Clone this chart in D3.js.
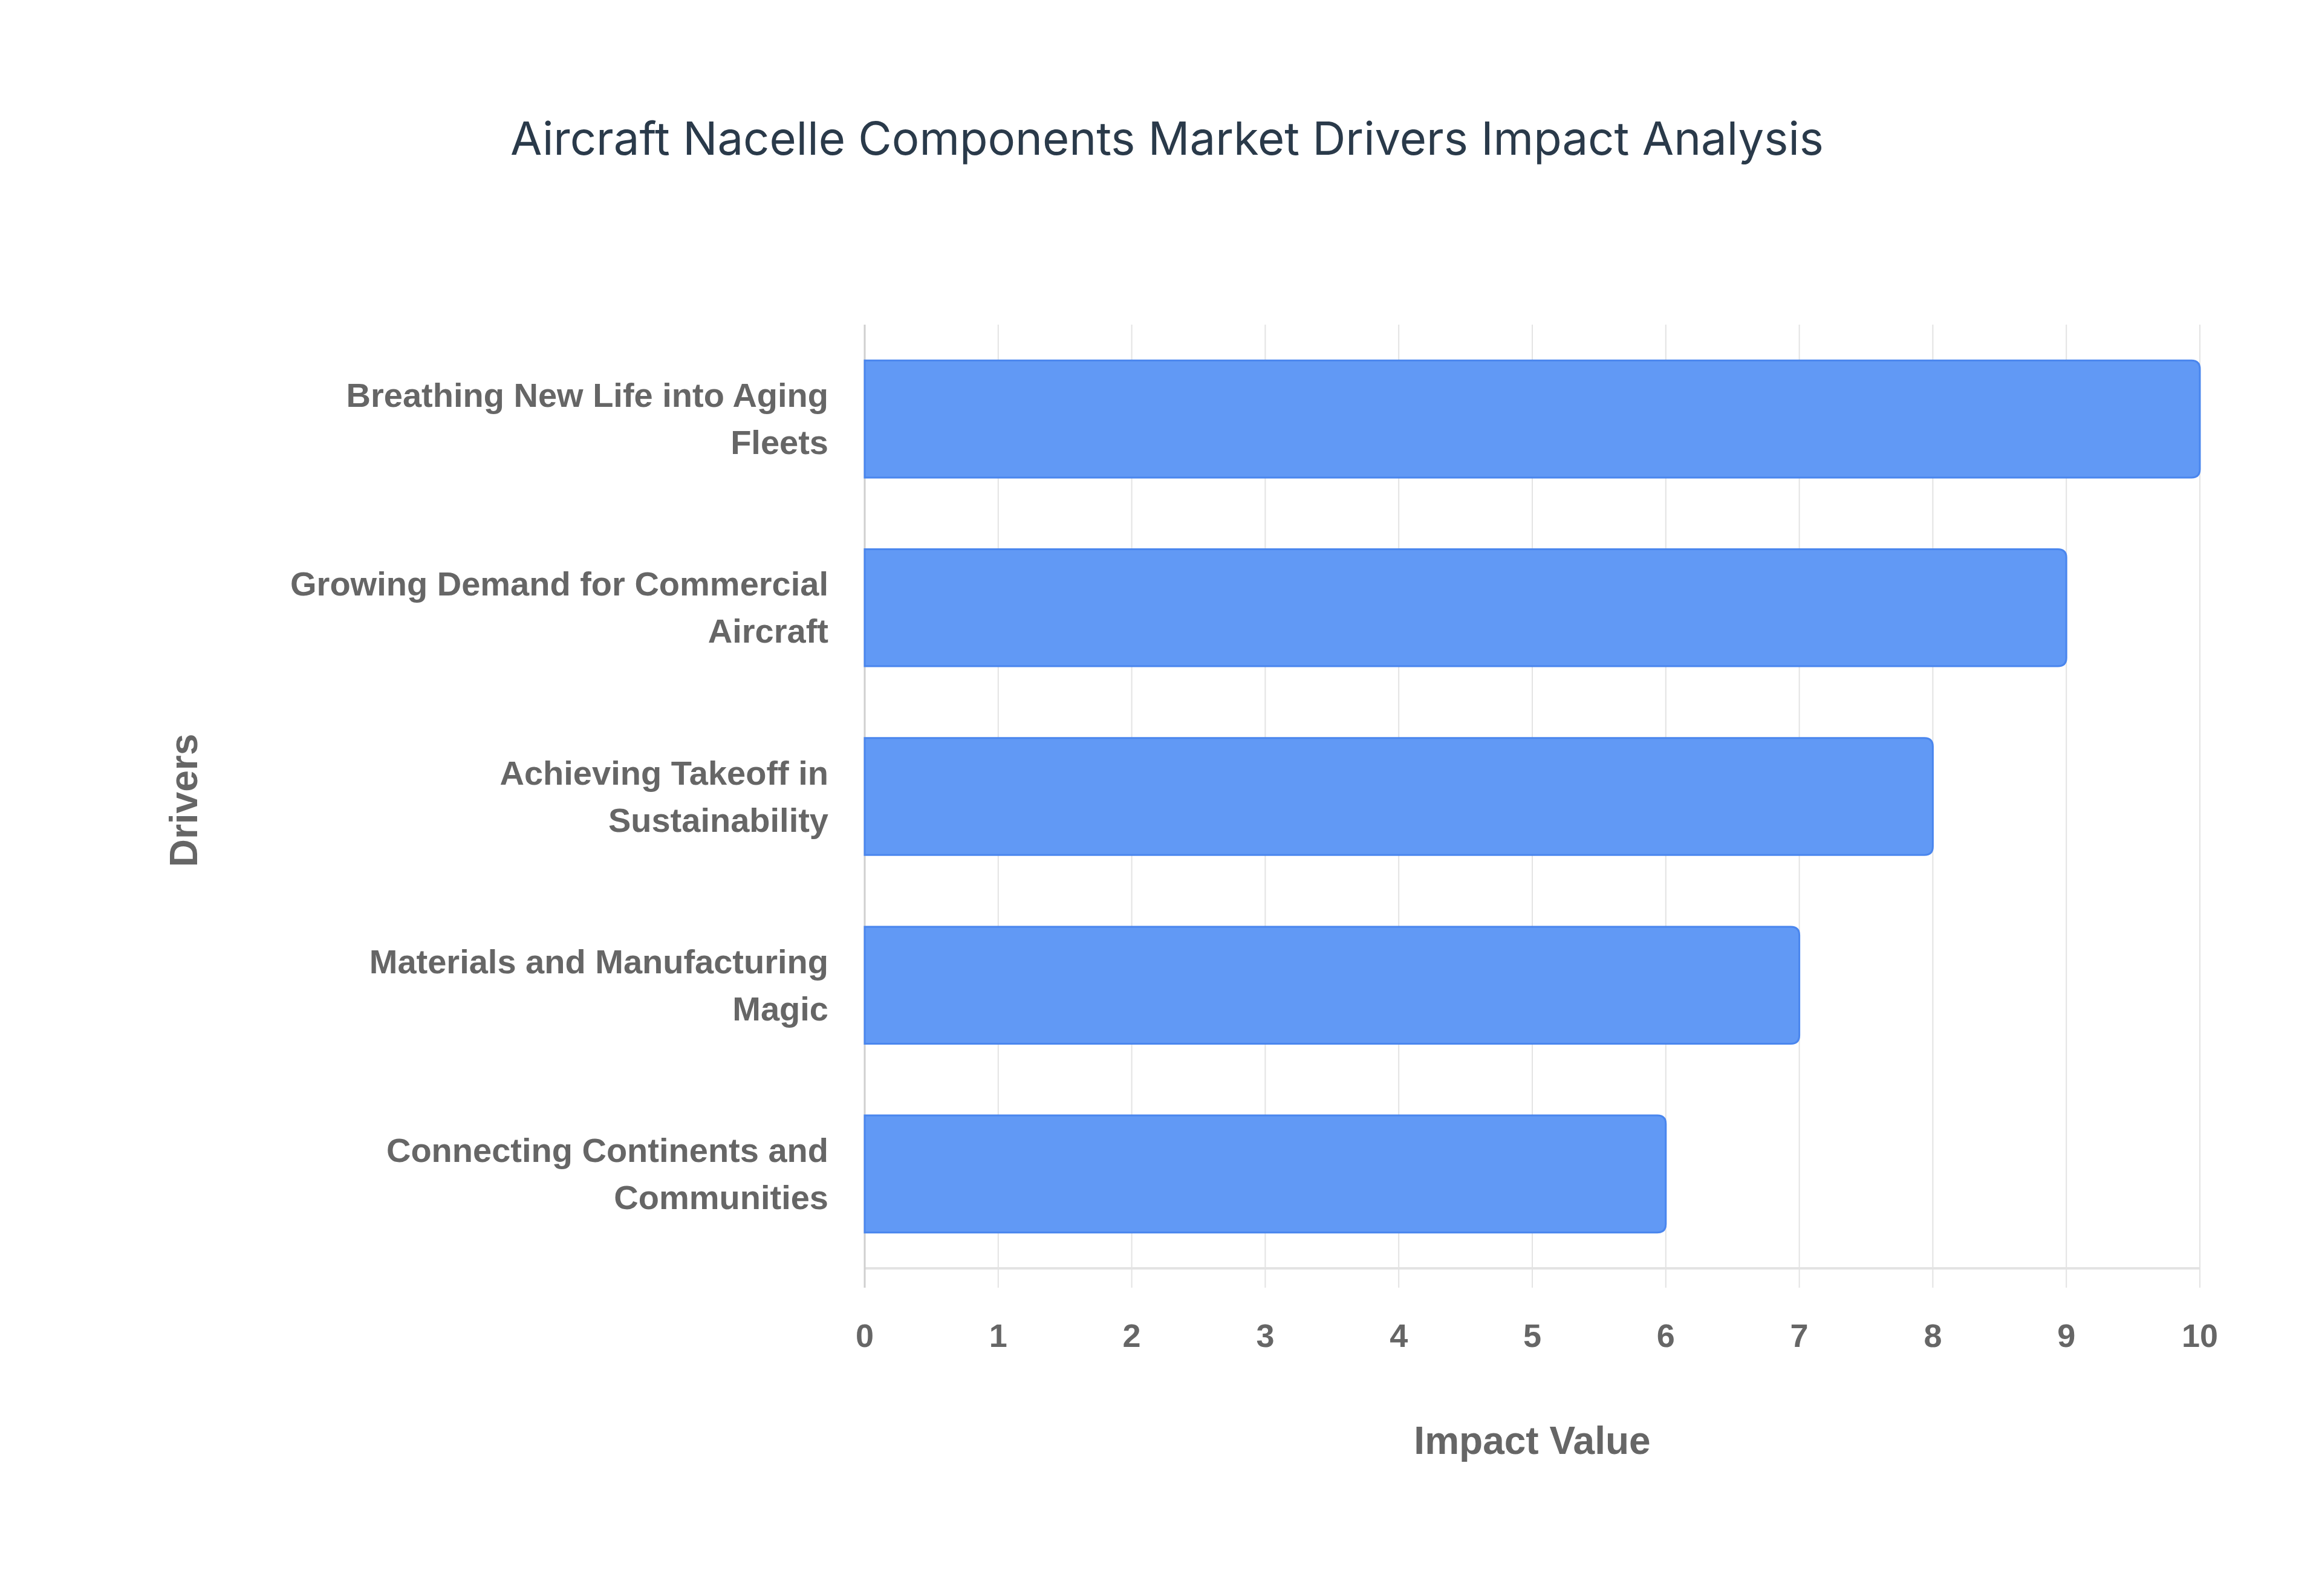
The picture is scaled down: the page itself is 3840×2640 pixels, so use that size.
<!DOCTYPE html>
<html>
<head>
<meta charset="utf-8">
<script src="https://cdn.jsdelivr.net/npm/d3@7"></script>
<style>
  body { margin: 0; background: #fff; }
  text { font-family: "Liberation Sans", Arial, sans-serif; }
</style>
</head>
<body>
<svg id="chart"></svg>
<script>
const drivers = [
  ["Breathing New Life into Aging", "Fleets"],
  ["Growing Demand for Commercial", "Aircraft"],
  ["Achieving Takeoff in", "Sustainability"],
  ["Materials and Manufacturing", "Magic"],
  ["Connecting Continents and", "Communities"]
];
const impactValues = [10, 9, 8, 7, 6];
const xTicks = [0, 1, 2, 3, 4, 5, 6, 7, 8, 9, 10];

const width = 3840, height = 2640;
const plotLeft = 1430, plotRight = 3638, plotTop = 537, plotBottom = 2098;

const svg = d3.select('#chart').attr('width', width).attr('height', height);

const x = d3.scaleLinear().domain([0, 10]).range([plotLeft, plotRight]);
const y = d3.scaleBand().domain(d3.range(drivers.length)).range([plotTop, plotBottom]).paddingInner(0.38).paddingOuter(0.19);

// grid
svg.append('g').selectAll('line').data(xTicks).enter().append('line')
  .attr('x1', d => x(d)).attr('x2', d => x(d))
  .attr('y1', plotTop).attr('y2', plotBottom + 32)
  .attr('stroke', '#e3e3e3').attr('stroke-width', 2);
svg.append('line').attr('x1', plotLeft).attr('x2', plotRight).attr('y1', plotBottom).attr('y2', plotBottom)
  .attr('stroke', '#e3e3e3').attr('stroke-width', 4);
svg.append('line').attr('x1', plotLeft).attr('x2', plotLeft).attr('y1', plotTop).attr('y2', plotBottom + 32)
  .attr('stroke', '#d0d0d0').attr('stroke-width', 3);

// bars with rounded right end
const r = 14;
svg.append('g').selectAll('path').data(impactValues).enter().append('path')
  .attr('d', (d, i) => {
    const x0 = x(0), x1 = x(d), y0 = y(i), h = y.bandwidth();
    return `M${x0},${y0}H${x1 - r}Q${x1},${y0} ${x1},${y0 + r}V${y0 + h - r}Q${x1},${y0 + h} ${x1 - r},${y0 + h}H${x0}Z`;
  })
  .attr('fill', '#6199f5').attr('stroke', '#4a86ee').attr('stroke-width', 3);

// x tick labels
svg.append('g').selectAll('text').data(xTicks).enter().append('text')
  .attr('x', d => x(d)).attr('y', 2228)
  .attr('text-anchor', 'middle').attr('font-size', 54).attr('font-weight', 'bold')
  .attr('fill', '#666').text(d => d);

// y labels
const lbl = svg.append('g').selectAll('text').data(drivers).enter().append('text')
  .attr('text-anchor', 'end').attr('font-size', 56).attr('font-weight', 'bold').attr('fill', '#666');
lbl.each(function(lines, i) {
  const cy = y(i) + y.bandwidth() / 2;
  d3.select(this).selectAll('tspan').data(lines).enter().append('tspan')
    .attr('x', 1370).attr('y', (t, j) => cy - 20 + j * 78).text(t => t);
});

// titles
svg.append('text').attr('x', 1930).attr('y', 256).attr('text-anchor', 'middle')
  .attr('font-size', 76).attr('fill', '#2a3a4a')
  .style('font-family', 'Inter, "Noto Sans", sans-serif')
  .text('Aircraft Nacelle Components Market Drivers Impact Analysis');
svg.append('text').attr('x', 2534).attr('y', 2405).attr('text-anchor', 'middle')
  .attr('font-size', 64).attr('font-weight', 'bold').attr('fill', '#666').text('Impact Value');
svg.append('text').attr('transform', 'translate(326,1324) rotate(-90)').attr('text-anchor', 'middle')
  .attr('font-size', 64).attr('font-weight', 'bold').attr('fill', '#666').text('Drivers');
</script>
</body>
</html>
